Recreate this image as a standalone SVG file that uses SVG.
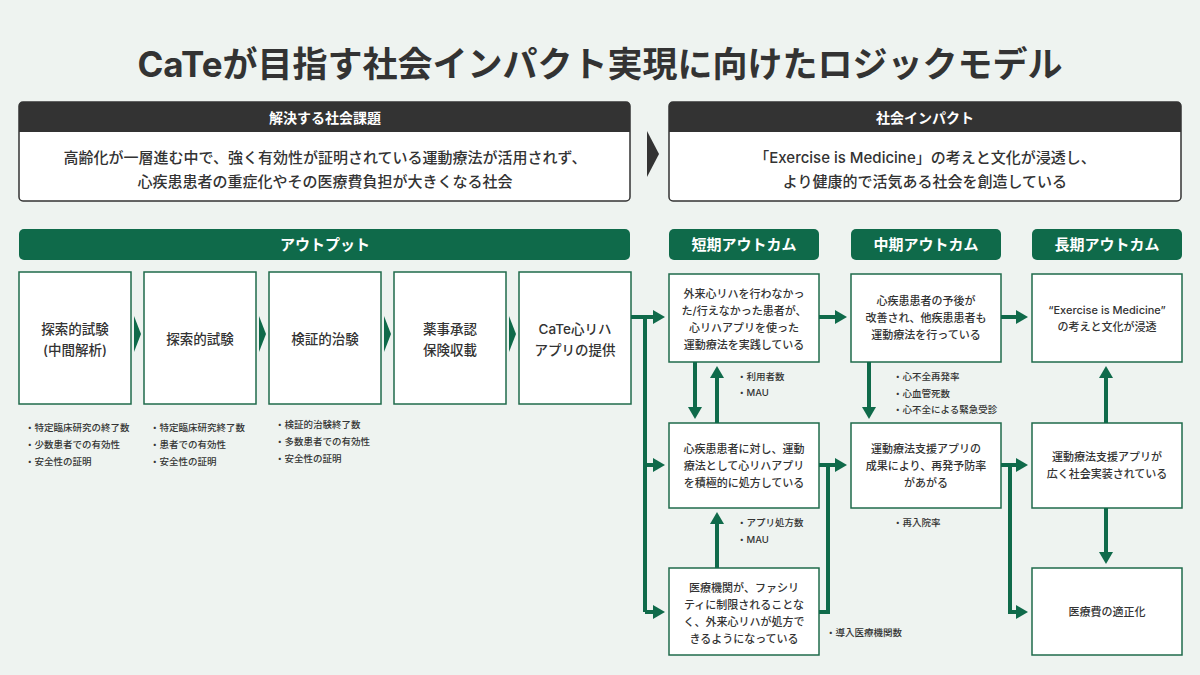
<svg xmlns="http://www.w3.org/2000/svg" width="1200" height="675" viewBox="0 0 1200 675">
<style>
text{font-family:Inter,"Noto Sans CJK JP","Noto Sans",sans-serif;fill:#333}
.title{font-size:35px;font-weight:700}
.hd{font-size:14px;font-weight:700;fill:#fff}
.ghd{font-size:15px;font-weight:700;fill:#fff}
.body{font-size:15px;font-weight:500}
.ob{font-size:13.5px;font-weight:500}
.bx{font-size:11px;font-weight:500}
.note{font-size:9.5px;font-weight:500}
.dbox{fill:#fff;stroke:#333;stroke-width:1.5}
.dhead{fill:#333}
.gbar{fill:#0f6a4a}
.gbox{fill:#fff;stroke:#1f6b4b;stroke-width:1.5}
.conn{fill:none;stroke:#0f6a4a;stroke-width:4}
</style>
<defs>
<marker id="ah" markerUnits="userSpaceOnUse" markerWidth="14" markerHeight="16" refX="2" refY="8" orient="auto">
<path d="M0,1 L12,8 L0,15 Z" fill="#0f6a4a"/>
</marker>
</defs>
<rect width="1200" height="675" fill="#eef3f0"/>
<text class="title" x="600" y="77" text-anchor="middle">CaTeが目指す社会インパクト実現に向けたロジックモデル</text>

<g id="issue">
<rect class="dbox" x="19" y="102" width="611" height="99" rx="4"/>
<path class="dhead" d="M23,102 H626 A4,4 0 0 1 630,106 V132 H19 V106 A4,4 0 0 1 23,102 Z"/>
<text class="hd" x="325" y="123" text-anchor="middle">解決する社会課題</text>
<text class="body" x="325" y="163" text-anchor="middle">高齢化が一層進む中で、強く有効性が証明されている運動療法が活用されず、</text>
<text class="body" x="325" y="187" text-anchor="middle">心疾患患者の重症化やその医療費負担が大きくなる社会</text>
</g>
<g id="bigchev"><polygon points="647,131 659,154 647,177" fill="#333"/></g>
<g id="impact">
<rect class="dbox" x="669" y="102" width="512" height="99" rx="4"/>
<path class="dhead" d="M673,102 H1177 A4,4 0 0 1 1181,106 V132 H669 V106 A4,4 0 0 1 673,102 Z"/>
<text class="hd" x="925" y="123" text-anchor="middle">社会インパクト</text>
<text class="body" x="925" y="163" text-anchor="middle">「Exercise is Medicine」の考えと文化が浸透し、</text>
<text class="body" x="925" y="187" text-anchor="middle">より健康的で活気ある社会を創造している</text>
</g>

<g id="output-header">
<rect class="gbar" x="19" y="229" width="611" height="31" rx="5"/>
<text class="ghd" x="325" y="250" text-anchor="middle">アウトプット</text>
</g>
<g id="out1">
<rect class="gbox" x="19" y="272" width="112" height="132"/>
<text class="ob" x="75" y="334" text-anchor="middle">探索的試験</text>
<text class="ob" x="75" y="355" text-anchor="middle">(中間解析)</text>
<text class="note" x="25" y="431">・特定臨床研究の終了数</text>
<text class="note" x="25" y="448">・少数患者での有効性</text>
<text class="note" x="25" y="465">・安全性の証明</text>
</g>
<g id="out2">
<rect class="gbox" x="144" y="272" width="112" height="132"/>
<text class="ob" x="200" y="344" text-anchor="middle">探索的試験</text>
<text class="note" x="150" y="431">・特定臨床研究終了数</text>
<text class="note" x="150" y="448">・患者での有効性</text>
<text class="note" x="150" y="465">・安全性の証明</text>
</g>
<g id="out3">
<rect class="gbox" x="269" y="272" width="112" height="132"/>
<text class="ob" x="325" y="344" text-anchor="middle">検証的治験</text>
<text class="note" x="275" y="428">・検証的治験終了数</text>
<text class="note" x="275" y="445">・多数患者での有効性</text>
<text class="note" x="275" y="462">・安全性の証明</text>
</g>
<g id="out4">
<rect class="gbox" x="394" y="272" width="112" height="132"/>
<text class="ob" x="450" y="334" text-anchor="middle">薬事承認</text>
<text class="ob" x="450" y="355" text-anchor="middle">保険収載</text>
</g>
<g id="out5">
<rect class="gbox" x="519" y="272" width="112" height="132"/>
<text class="ob" x="575" y="334" text-anchor="middle">CaTe心リハ</text>
<text class="ob" x="575" y="355" text-anchor="middle">アプリの提供</text>
</g>
<g id="out-chevrons" fill="#0f6a4a">
<polygon points="134,316 141,334 134,352"/>
<polygon points="259,316 266,334 259,352"/>
<polygon points="384,316 391,334 384,352"/>
<polygon points="509,316 516,334 509,352"/>
</g>

<g id="short-header">
<rect class="gbar" x="669" y="229" width="150" height="31" rx="5"/>
<text class="ghd" x="744" y="250" text-anchor="middle">短期アウトカム</text>
</g>
<g id="mid-header">
<rect class="gbar" x="851" y="229" width="150" height="31" rx="5"/>
<text class="ghd" x="926" y="250" text-anchor="middle">中期アウトカム</text>
</g>
<g id="long-header">
<rect class="gbar" x="1032" y="229" width="150" height="31" rx="5"/>
<text class="ghd" x="1107" y="250" text-anchor="middle">長期アウトカム</text>
</g>

<g id="s1">
<rect class="gbox" x="669" y="274" width="150" height="88"/>
<text class="bx" x="744" y="298" text-anchor="middle">外来心リハを行わなかっ</text>
<text class="bx" x="744" y="315" text-anchor="middle">た/行えなかった患者が、</text>
<text class="bx" x="744" y="332" text-anchor="middle">心リハアプリを使った</text>
<text class="bx" x="744" y="349" text-anchor="middle">運動療法を実践している</text>
</g>
<g id="s2">
<rect class="gbox" x="669" y="423" width="150" height="85"/>
<text class="bx" x="744" y="453" text-anchor="middle">心疾患患者に対し、運動</text>
<text class="bx" x="744" y="470" text-anchor="middle">療法として心リハアプリ</text>
<text class="bx" x="744" y="487" text-anchor="middle">を積極的に処方している</text>
</g>
<g id="s3">
<rect class="gbox" x="669" y="568" width="150" height="87"/>
<text class="bx" x="744" y="592" text-anchor="middle">医療機関が、ファシリ</text>
<text class="bx" x="744" y="609" text-anchor="middle">ティに制限されることな</text>
<text class="bx" x="744" y="626" text-anchor="middle">く、外来心リハが処方で</text>
<text class="bx" x="744" y="643" text-anchor="middle">きるようになっている</text>
</g>
<g id="m1">
<rect class="gbox" x="851" y="274" width="150" height="88"/>
<text class="bx" x="926" y="305" text-anchor="middle">心疾患患者の予後が</text>
<text class="bx" x="926" y="322" text-anchor="middle">改善され、他疾患患者も</text>
<text class="bx" x="926" y="339" text-anchor="middle">運動療法を行っている</text>
</g>
<g id="m2">
<rect class="gbox" x="851" y="423" width="150" height="85"/>
<text class="bx" x="926" y="453" text-anchor="middle">運動療法支援アプリの</text>
<text class="bx" x="926" y="470" text-anchor="middle">成果により、再発予防率</text>
<text class="bx" x="926" y="487" text-anchor="middle">があがる</text>
</g>
<g id="l1">
<rect class="gbox" x="1032" y="274" width="150" height="88"/>
<text class="bx" x="1107" y="314" text-anchor="middle">“Exercise is Medicine”</text>
<text class="bx" x="1107" y="331" text-anchor="middle">の考えと文化が浸透</text>
</g>
<g id="l2">
<rect class="gbox" x="1032" y="423" width="150" height="85"/>
<text class="bx" x="1107" y="461" text-anchor="middle">運動療法支援アプリが</text>
<text class="bx" x="1107" y="478" text-anchor="middle">広く社会実装されている</text>
</g>
<g id="l3">
<rect class="gbox" x="1032" y="568" width="150" height="87"/>
<text class="bx" x="1107" y="616" text-anchor="middle">医療費の適正化</text>
</g>

<g id="notes">
<text class="note" x="737" y="380">・利用者数</text>
<text class="note" x="737" y="396">・MAU</text>
<text class="note" x="893" y="380">・心不全再発率</text>
<text class="note" x="893" y="397">・心血管死数</text>
<text class="note" x="893" y="413">・心不全による緊急受診</text>
<text class="note" x="737" y="526">・アプリ処方数</text>
<text class="note" x="737" y="543">・MAU</text>
<text class="note" x="893" y="526">・再入院率</text>
<text class="note" x="826" y="636">・導入医療機関数</text>
</g>

<g id="connectors">
<path class="conn" d="M631,317 H655" marker-end="url(#ah)"/>
<path class="conn" d="M645,317 V612"/>
<path class="conn" d="M645,465 H655" marker-end="url(#ah)"/>
<path class="conn" d="M645,612 H655" marker-end="url(#ah)"/>
<path class="conn" d="M819,317 H837" marker-end="url(#ah)"/>
<path class="conn" d="M1001,317 H1018" marker-end="url(#ah)"/>
<path class="conn" d="M695,362 V409" marker-end="url(#ah)"/>
<path class="conn" d="M717,423 V376" marker-end="url(#ah)"/>
<path class="conn" d="M869,362 V409" marker-end="url(#ah)"/>
<path class="conn" d="M819,612 H828 V465"/>
<path class="conn" d="M819,465 H837" marker-end="url(#ah)"/>
<path class="conn" d="M1001,465 H1018" marker-end="url(#ah)"/>
<path class="conn" d="M1010,465 V612 H1018" marker-end="url(#ah)"/>
<path class="conn" d="M1106,423 V376" marker-end="url(#ah)"/>
<path class="conn" d="M1106,508 V554" marker-end="url(#ah)"/>
<path class="conn" d="M717,568 V522" marker-end="url(#ah)"/>
</g>
</svg>
